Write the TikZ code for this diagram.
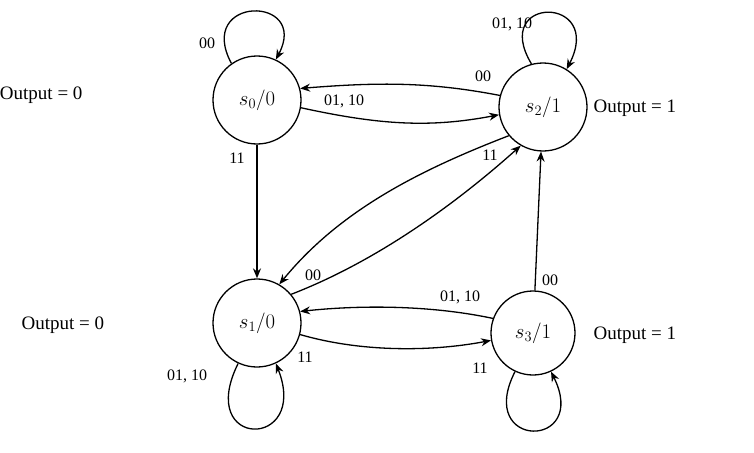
\documentclass[tikz,border=0pt]{standalone}
\usepackage{fontspec}
\setmainfont{Liberation Serif}
\usetikzlibrary{arrows.meta}
\begin{document}
\begin{tikzpicture}[x=1pt,y=-1pt,
  st/.style={draw,circle,line width=1.3pt,minimum size=88pt,inner sep=0pt,font=\fontsize{20}{22}\selectfont},
  ed/.style={line width=1.3pt,-{Stealth[length=10pt,width=8pt]}},
  lb/.style={font=\fontsize{16}{18}\selectfont,inner sep=1pt},
  ot/.style={font=\fontsize{19}{21}\selectfont}]
\useasboundingbox (0,0) rectangle (754,452);
\node[st] (s0) at (257,100) {$s_0/0$};
\node[st] (s2) at (543,107) {$s_2/1$};
\node[st] (s1) at (257,323) {$s_1/0$};
\node[st,minimum size=84pt] (s3) at (533,333) {$s_3/1$};
\node[ot,anchor=east] (o0) at (86,95) {Output = 0};
\node[ot,anchor=west] (o2) at (590,108) {Output = 1};
\node[ot,anchor=west] (o1) at (18,325) {Output = 0};
\node[ot,anchor=west] (o3) at (590,335) {Output = 1};
% self loops
\draw[ed] (s0.125) .. controls (195,-5) and (310,-5) .. (s0.65);
\node[lb] (l1) at (207,43) {00};
\draw[ed] (s2.105) .. controls (490,-5) and (605,-5) .. (s2.58);
\node[lb] (l2) at (512,24) {01, 10};
\draw[ed] (s1.245) .. controls (195,450) and (310,450) .. (s1.295);
\node[lb] (l3) at (187,376) {01, 10};
\draw[ed] (s3.245) .. controls (475,450) and (590,450) .. (s3.295);
\node[lb] (l4) at (480,368) {11};
% s0 <-> s2
\draw[ed] (s0.-10) .. controls (380,125) and (430,128) .. (s2.190);
\draw[ed] (s2.165) .. controls (430,82) and (380,82) .. (s0.15);
\node[lb] (l5) at (344,101) {01, 10};
\node[lb] (l6) at (483,76) {00};
% s0 -> s1
\draw[ed] (s0) -- (s1);
\node[lb] (l7) at (237,158) {11};
% s1 <-> s2
\draw[ed] (s1.40) .. controls (380,260) and (460,200) .. (s2.240);
\draw[ed] (s2.220) .. controls (420,170) and (340,210) .. (s1.60);
\node[lb] (l8) at (490,155) {11};
\node[lb] (l9) at (313,275) {00};
% s1 <-> s3
\draw[ed] (s3.160) .. controls (430,305) and (360,305) .. (s1.15);
\draw[ed] (s1.-15) .. controls (360,352) and (430,352) .. (s3.190);
\node[lb] (l10) at (460,297) {01, 10};
\node[lb] (l11) at (305,357) {11};
% s3 -> s2
\draw[ed] (s3) -- (s2);
\node[lb] (l12) at (550,280) {00};
\end{tikzpicture}
\end{document}
